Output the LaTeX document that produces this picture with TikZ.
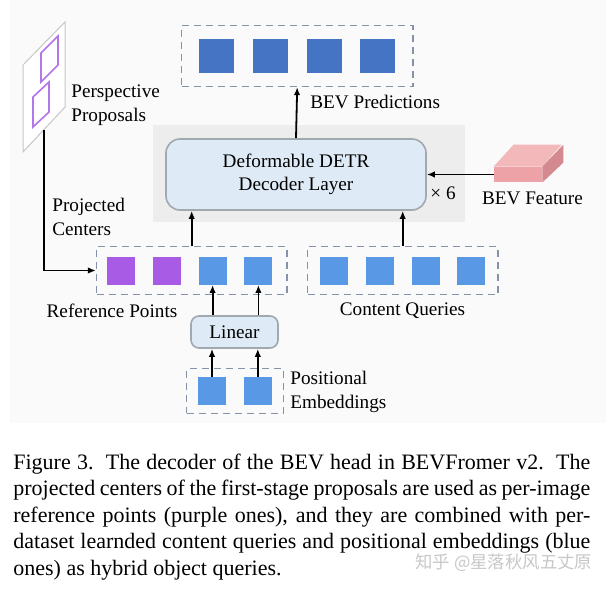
\documentclass[tikz,border=0pt]{standalone}
\usepackage{fontspec}
\setmainfont{Liberation Serif}
\newfontfamily\cjkfont{Noto Sans CJK SC}
\usepackage{tikz}
\usetikzlibrary{positioning,arrows.meta,calc,fit}
\definecolor{fondo}{RGB}{250,250,250}
\definecolor{gris}{RGB}{237,237,237}
\definecolor{azuloscuro}{RGB}{70,116,196}
\definecolor{azul}{RGB}{88,152,228}
\definecolor{morado}{RGB}{168,92,230}
\definecolor{borde}{RGB}{132,146,170}
\definecolor{capa}{RGB}{222,234,245}
\definecolor{bordecapa}{RGB}{160,168,176}
\definecolor{rosa}{RGB}{236,162,166}
\definecolor{rosaclaro}{RGB}{243,184,186}
\definecolor{rosaoscuro}{RGB}{212,136,143}
\definecolor{marca}{RGB}{200,200,200}

\begin{document}
\begin{tikzpicture}[x=0.5pt, y=-0.5pt,
  font=\fontsize{9.6}{11.75}\selectfont,
  predsq/.style={fill=azuloscuro, minimum width=17.5pt, minimum height=17pt, inner sep=0pt},
  querysq/.style={fill=azul, minimum size=14pt, inner sep=0pt},
  refsq/.style={fill=morado, minimum size=14pt, inner sep=0pt},
  grupo/.style={draw=borde, line width=0.7pt, dash pattern=on 3.5pt off 2.5pt,
                inner xsep=6pt, inner ysep=4.75pt},
  capabox/.style={draw=bordecapa, fill=capa, line width=0.8pt, align=center},
  etiqueta/.style={inner sep=0pt, align=left},
  flecha/.style={-{Latex[length=4pt,width=3.2pt]}, line width=0.9pt}]
  \useasboundingbox (0,0) rectangle (616,589);
  \fill[white] (0,0) rectangle (616,589);
  \fill[fondo] (10,0) rectangle (606,423);
  \fill[gris] (153,125) rectangle (465,222);
  \node[predsq] (p1) at (216.5,56) {};
  \node[predsq, right=9pt of p1] (p2) {};
  \node[predsq, right=9pt of p2] (p3) {};
  \node[predsq, right=9pt of p3] (p4) {};
  \node[grupo, fit=(p1)(p4), inner xsep=8.5pt, inner ysep=6.5pt] (preds) {};
  \node[etiqueta, anchor=west] (predtxt) at (310,102) {BEV Predictions};
  \node[capabox, rounded corners=7pt, minimum width=130pt, minimum height=35.5pt]
    (dec) at (296,174.5) {Deformable DETR\\Decoder Layer};
  \node[etiqueta, anchor=west] (veces) at (430,193) {× 6};
  \node[fill=rosa, minimum width=24pt, minimum height=7.5pt, inner sep=0pt] (feat) at (518,174.5) {};
  \fill[rosaclaro] (feat.north west) -- ++(20,-22) -- ++(48,0) -- (feat.north east) -- cycle;
  \fill[rosaoscuro] (feat.north east) -- ++(21,-22) -- ++(0,18) -- (feat.south east) -- cycle;
  \node[etiqueta] (feattxt) at (532.5,198) {BEV Feature};
  \filldraw[fill=white, draw=black!22, line width=0.5pt] (23,65) -- (65,22) -- (65,107) -- (23,152) -- cycle;
  \draw[morado!85, line width=0.8pt] (41,53) -- (58,36) -- (58,65) -- (41,82) -- cycle;
  \draw[morado!85, line width=0.8pt] (33,97) -- (49,82) -- (49,112) -- (33,127) -- cycle;
  \coordinate (plano) at (44,130);
  \node[etiqueta, anchor=west] (proptxt) at (71,105) {Perspective\\Proposals};
  \node[etiqueta, anchor=west] (centtxt) at (52,217) {Projected\\Centers};
  \node[refsq] (r1) at (121,270.5) {};
  \node[refsq, right=8.5pt of r1] (r2) {};
  \node[querysq, right=8.5pt of r2] (r3) {};
  \node[querysq, right=8.5pt of r3] (r4) {};
  \node[grupo, fit=(r1)(r4), xshift=1pt] (refs) {};
  \node[etiqueta] (reftxt) at (112,311) {Reference Points};
  \node[querysq] (c1) at (334,270.5) {};
  \node[querysq, right=8.5pt of c1] (c2) {};
  \node[querysq, right=8.5pt of c2] (c3) {};
  \node[querysq, right=8.5pt of c3] (c4) {};
  \node[grupo, fit=(c1)(c4)] (cont) {};
  \node[etiqueta] (conttxt) at (402.5,311) {Content Queries};
  \node[capabox, rounded corners=4pt, minimum width=43.5pt, minimum height=16pt, inner sep=0pt]
    (lin) at (234.5,332) {Linear};
  \node[querysq] (e1) at (212,391) {};
  \node[querysq, right=8.5pt of e1] (e2) {};
  \node[grupo, fit=(e1)(e2), inner xsep=5.5pt, inner ysep=4pt] (pos) {};
  \node[etiqueta, anchor=west] (postxt) at (290,392) {Positional\\Embeddings};
  \draw[flecha] (dec.north) -- (preds.south);
  \draw[flecha] (refs.north) -- (refs.north |- dec.south);
  \draw[flecha] (cont.north) -- (cont.north |- dec.south);
  \draw[flecha] (feat.west) -- (dec.east);
  \draw[flecha] (plano) |- (refs.west);
  \draw[flecha] (r3 |- lin.north) -- (r3.south);
  \draw[flecha] (r4 |- lin.north) -- (r4.south);
  \draw[flecha] (e1.north) -- (e1 |- lin.south);
  \draw[flecha] (e2.north) -- (e2 |- lin.south);
  \node[anchor=base west, inner sep=0pt] (pie) at (13,469)
    {\parbox[t]{288.5pt}{\fontsize{11}{13.25}\selectfont
    Figure 3.\ \ The decoder of the BEV head in BEVFromer v2.\ \ The\linebreak
    projected centers of the first-stage proposals are used as per-image\linebreak
    reference points (purple ones), and they are combined with per-\linebreak
    dataset learnded content queries and positional embeddings (blue\linebreak
    ones) as hybrid object queries.}};
  \node[anchor=west, inner sep=0pt, text=marca, font=\cjkfont\fontsize{8.7}{10}\selectfont]
    (marca) at (415,563) {知乎 @星落秋风五丈原};
\end{tikzpicture}
\end{document}
